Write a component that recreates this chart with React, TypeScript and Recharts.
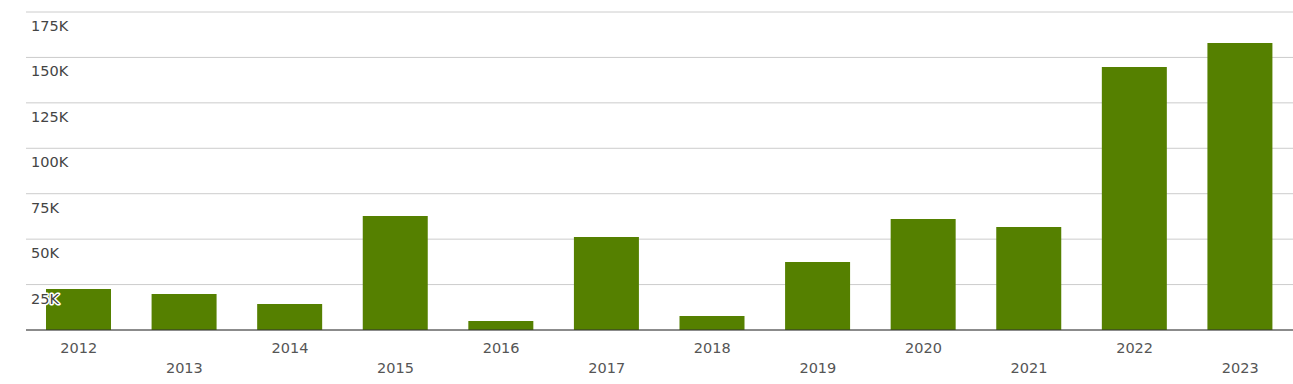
import { BarChart, Bar, XAxis, YAxis, CartesianGrid } from 'recharts'

const YEARS = ['2012', '2013', '2014', '2015', '2016', '2017', '2018', '2019', '2020', '2021', '2022', '2023']
const VALUES = [22600, 19800, 14300, 62700, 5000, 51200, 7700, 37400, 61100, 56700, 144700, 157900]
const Y_TICKS = [0, 25000, 50000, 75000, 100000, 125000, 150000, 175000]

const FONT = 'DejaVu Sans, sans-serif'
const BAR_COLOR = '#558000'

const data = YEARS.map((year, i) => ({ year, value: VALUES[i] }))

function YTick({ x, y, payload }: any) {
  if (payload.value === 0) return null
  return (
    <text
      x={x} y={y} dx={5} dy={19} textAnchor="start"
      fontSize={14.5} fontFamily={FONT} fill="#444"
      stroke="#fff" strokeWidth={3} paintOrder="stroke" strokeLinejoin="round"
    >
      {`${payload.value / 1000}K`}
    </text>
  )
}

function XTick({ x, y, payload, index }: any) {
  return (
    <text
      x={x} y={y} dy={index % 2 === 0 ? 15 : 35} textAnchor="middle"
      fontSize={14.5} fontFamily={FONT} fill="#555"
    >
      {payload.value}
    </text>
  )
}

export default function App() {
  return (
    <div style={{ position: 'absolute', left: 0, top: 0 }}>
      <BarChart width={1293} height={384} data={data} margin={{ top: 12, right: 0, left: 0, bottom: 0 }}>
        <CartesianGrid vertical={false} stroke="#ccc" />
        <Bar dataKey="value" fill={BAR_COLOR} barSize={65} isAnimationActive={false} />
        <XAxis
          dataKey="year" interval={0} tickLine={false}
          axisLine={{ stroke: '#333' }} tick={<XTick />} height={54}
        />
        <YAxis
          domain={[0, 175000]} ticks={Y_TICKS} width={26} interval={0}
          axisLine={false} tickLine={false} tickSize={0} tickMargin={0} tick={<YTick />}
        />
      </BarChart>
    </div>
  )
}
